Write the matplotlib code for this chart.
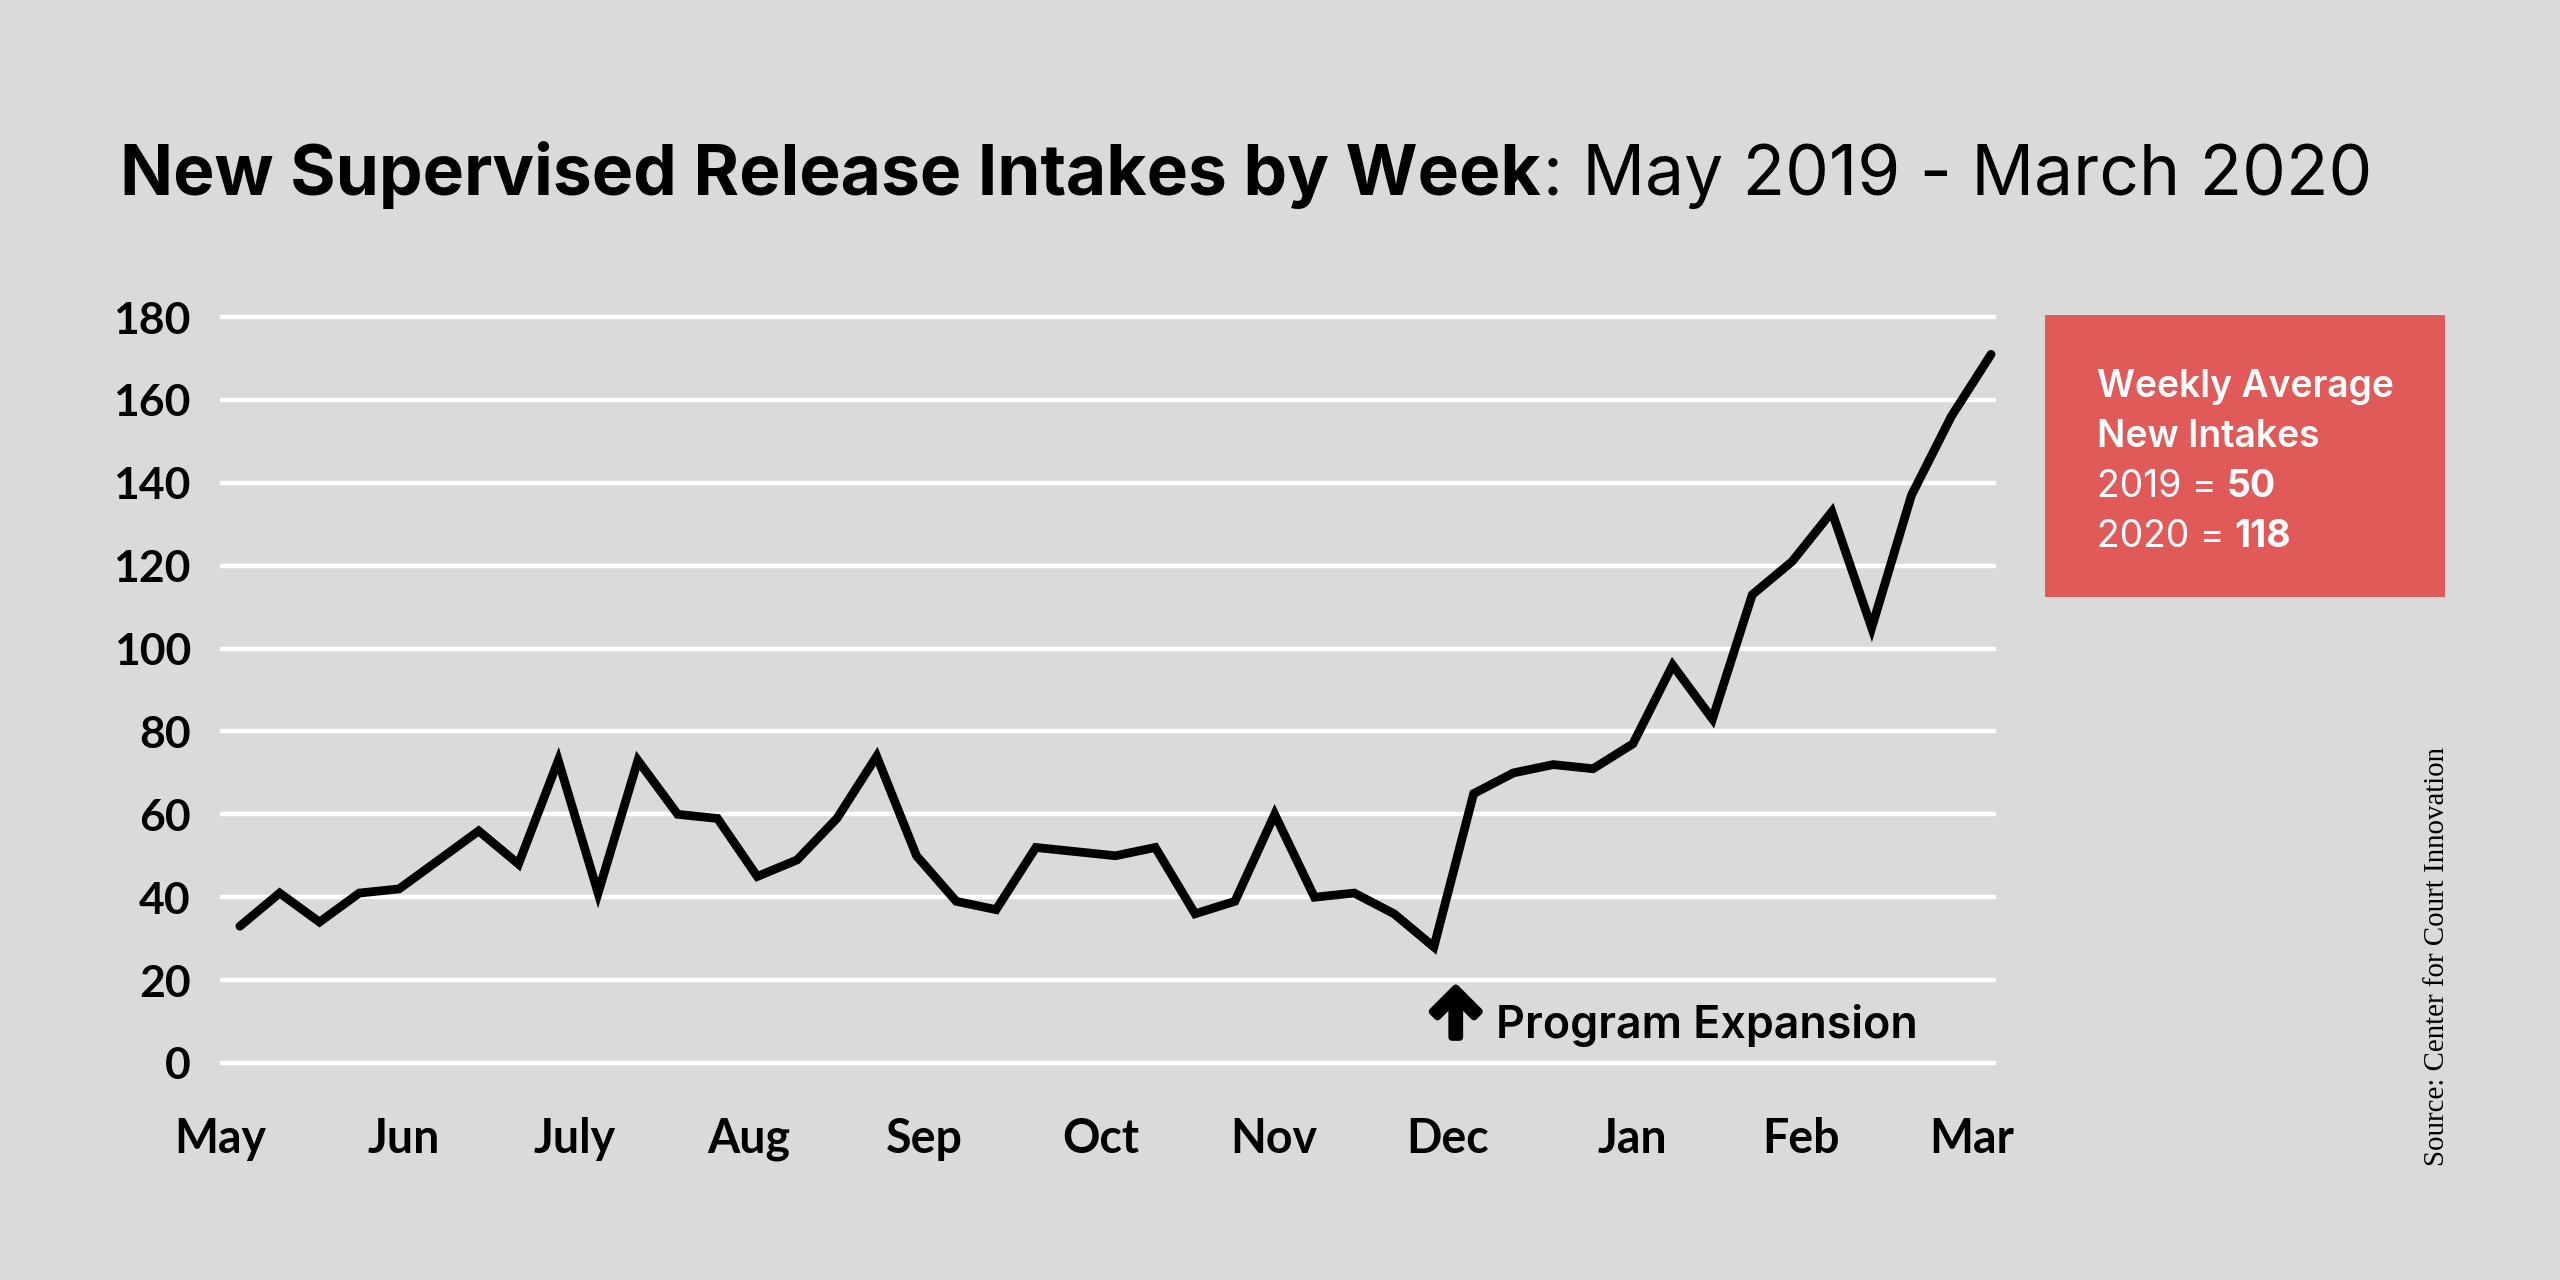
import matplotlib
matplotlib.use('Agg')
import matplotlib.pyplot as plt
import matplotlib.patheffects as pe
from matplotlib.patches import Rectangle

# ---------------- data ----------------
weeks = list(range(45))
intakes = [33, 41, 34, 41, 42, 49, 56, 48, 73, 41,
           73, 60, 59, 45, 49, 59, 74, 50, 39, 37,
           52, 51, 50, 52, 36, 39, 60, 40, 41, 36,
           28, 65, 70, 72, 71, 77, 96, 83, 113, 121,
           133, 105, 137, 156, 171]
month_labels = ['May', 'Jun', 'July', 'Aug', 'Sep', 'Oct', 'Nov', 'Dec', 'Jan', 'Feb', 'Mar']
month_pos = [-0.5, 4.12, 8.41, 12.79, 17.19, 21.64, 25.97, 30.35, 34.98, 39.23, 43.52]
y_ticks = [0, 20, 40, 60, 80, 100, 120, 140, 160, 180]

title_bold = 'New Supervised Release Intakes by Week'
title_reg = ': May 2019 - March 2020'
box_head = ['Weekly Average', 'New Intakes']
avg_years = ['2019', '2020']
avg_values = ['50', '118']
annot_text = 'Program Expansion'
annot_week = 30.55
source_text = 'Source: Center for Court Innovation'

# ---------------- style ----------------
BG = '#dadada'
BOX = '#e05a5a'
SANS = ['Inter', 'Lato', 'DejaVu Sans']
TICKF = ['Lato', 'DejaVu Sans']

W, H = 2560, 1280
fig = plt.figure(figsize=(W / 100, H / 100), dpi=100, facecolor=BG)
renderer = fig.canvas.get_renderer()

def fx(px):
    return px / W

def fy(py):
    return 1 - py / H

ax_top, ax_bot = 304.6, 1075.4
ax = fig.add_axes([fx(220), fy(ax_bot), (1996 - 220) / W, (ax_bot - ax_top) / H])
ax.set_facecolor(BG)
ax.set_xlim(-0.05, 44.124)
ax.set_ylim(-3, 183)
for s in ax.spines.values():
    s.set_visible(False)
ax.set_yticks(y_ticks)
ax.set_yticklabels([str(v) for v in y_ticks])
ax.set_xticks(month_pos)
ax.set_xticklabels(month_labels)
ax.tick_params(axis='both', length=0)
ax.tick_params(axis='y', pad=21)
ax.tick_params(axis='x', pad=30)
for lab in ax.get_yticklabels():
    lab.set_fontfamily(TICKF)
    lab.set_fontweight('bold')
    lab.set_fontsize(32)
    lab.set_color('black')
for lab in ax.get_xticklabels():
    lab.set_fontfamily(TICKF)
    lab.set_fontweight('bold')
    lab.set_fontsize(33.5)
    lab.set_color('black')
ax.yaxis.grid(True, color='white', lw=3.2)
ax.xaxis.grid(False)
ax.set_axisbelow(True)

ax.plot(weeks, intakes, color='black', lw=6.3, solid_joinstyle='miter',
        solid_capstyle='round', zorder=3)

# annotation
ax.text(annot_week, 10.4, '\u2191', fontfamily=SANS, fontweight='bold', fontsize=48,
        ha='center', va='center', color='black',
        path_effects=[pe.withStroke(linewidth=5, foreground='black')])
t_ann = ax.text(31.57, 6.03, annot_text, fontfamily=SANS, fontweight='semibold',
                fontsize=30, ha='left', va='baseline', color='black')

def fit_width(texts, target):
    w0 = sum(t.get_window_extent(renderer).width for t in texts)
    f = target / w0
    for t in texts:
        t.set_fontsize(t.get_fontsize() * f)

fit_width([t_ann], 421)

# title
t1 = fig.text(fx(120), fy(195), title_bold, fontfamily=SANS, fontweight='bold',
              fontsize=50, ha='left', va='baseline', color='black')
t2 = fig.text(fx(1600), fy(195), title_reg, fontfamily=SANS, fontweight='normal',
              fontsize=50, ha='left', va='baseline', color='black')
fit_width([t1, t2], 2250)
b1 = t1.get_window_extent(renderer)
t2.set_x(fx(b1.x1 + 2))

# box
fig.patches.append(Rectangle((fx(2045), fy(597)), 400 / W, 282 / H,
                             transform=fig.transFigure, facecolor=BOX, edgecolor='none'))
bx = 2097
baselines = [397, 447, 497, 547]
h1 = fig.text(fx(bx), fy(baselines[0]), box_head[0], fontfamily=SANS, fontweight='semibold',
              fontsize=23, color='white', ha='left', va='baseline')
fit_width([h1], 297)
fs_box = h1.get_fontsize()
fig.text(fx(bx), fy(baselines[1]), box_head[1], fontfamily=SANS, fontweight='semibold',
         fontsize=fs_box, color='white', ha='left', va='baseline')
for yr, val, bl in zip(avg_years, avg_values, baselines[2:]):
    tr = fig.text(fx(bx), fy(bl), yr + ' =', fontfamily=SANS, fontweight='normal',
                  fontsize=fs_box, color='white', ha='left', va='baseline')
    br = tr.get_window_extent(renderer)
    fig.text(fx(br.x1 + 10), fy(bl), val, fontfamily=SANS, fontweight='bold',
             fontsize=fs_box, color='white', ha='left', va='baseline')

# source
ts = fig.text(fx(2437), fy(957), source_text, fontfamily=['Liberation Serif', 'DejaVu Serif'],
              fontsize=19.5, rotation=90, ha='center', va='center', color='black')
bs = ts.get_window_extent(renderer)
ts.set_fontsize(ts.get_fontsize() * 419 / bs.height)

fig.savefig('out.png', dpi=100, facecolor=BG)
